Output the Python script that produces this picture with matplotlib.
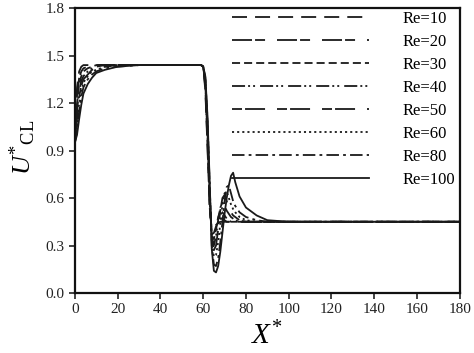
import matplotlib
matplotlib.use('Agg')
import matplotlib.pyplot as plt

# centreline velocity along the channel
x_star = [0, 1, 2, 3, 4, 6, 8, 10, 14, 20, 30, 59, 60, 61, 62, 63, 64, 65, 66,
          67, 68, 69, 70, 71, 72, 73, 74, 75, 77, 80, 85, 90, 100, 180]

re10 = [0.95, 1.30, 1.40, 1.43, 1.44, 1.44, 1.44, 1.44, 1.44, 1.44, 1.44,
        1.44, 1.43, 1.28, 0.92, 0.55, 0.40, 0.41, 0.43, 0.44, 0.45, 0.45,
        0.45, 0.45, 0.45, 0.45, 0.45, 0.45, 0.45, 0.45, 0.45, 0.45, 0.45, 0.45]
re20 = [0.95, 1.25, 1.36, 1.40, 1.42, 1.43, 1.44, 1.44, 1.44, 1.44, 1.44,
        1.44, 1.43, 1.30, 0.95, 0.55, 0.37, 0.38, 0.42, 0.45, 0.47, 0.47,
        0.46, 0.45, 0.45, 0.45, 0.45, 0.45, 0.45, 0.45, 0.45, 0.45, 0.45, 0.45]
re30 = [0.95, 1.20, 1.32, 1.37, 1.40, 1.42, 1.43, 1.44, 1.44, 1.44, 1.44,
        1.44, 1.43, 1.32, 1.00, 0.60, 0.36, 0.34, 0.40, 0.48, 0.52, 0.51,
        0.49, 0.47, 0.46, 0.45, 0.45, 0.45, 0.45, 0.45, 0.45, 0.45, 0.45, 0.45]
re40 = [0.95, 1.15, 1.28, 1.34, 1.37, 1.40, 1.42, 1.43, 1.44, 1.44, 1.44,
        1.44, 1.43, 1.33, 1.02, 0.62, 0.36, 0.30, 0.36, 0.46, 0.54, 0.57,
        0.55, 0.52, 0.50, 0.48, 0.47, 0.46, 0.45, 0.45, 0.45, 0.45, 0.45, 0.45]
re50 = [0.95, 1.10, 1.24, 1.31, 1.35, 1.38, 1.41, 1.42, 1.43, 1.44, 1.44,
        1.44, 1.43, 1.34, 1.05, 0.65, 0.35, 0.27, 0.30, 0.40, 0.52, 0.60,
        0.62, 0.58, 0.54, 0.51, 0.49, 0.48, 0.46, 0.45, 0.45, 0.45, 0.45, 0.45]
re60 = [0.95, 1.06, 1.20, 1.28, 1.33, 1.37, 1.40, 1.41, 1.43, 1.44, 1.44,
        1.44, 1.43, 1.35, 1.08, 0.68, 0.33, 0.23, 0.24, 0.32, 0.44, 0.56,
        0.63, 0.64, 0.60, 0.56, 0.53, 0.51, 0.48, 0.46, 0.45, 0.45, 0.45, 0.45]
re80 = [0.95, 1.02, 1.15, 1.24, 1.30, 1.35, 1.38, 1.40, 1.42, 1.43, 1.44,
        1.44, 1.43, 1.36, 1.10, 0.70, 0.30, 0.18, 0.17, 0.22, 0.32, 0.45,
        0.58, 0.67, 0.68, 0.63, 0.58, 0.55, 0.51, 0.48, 0.46, 0.45, 0.45, 0.45]
re100 = [0.95, 1.00, 1.10, 1.19, 1.26, 1.32, 1.36, 1.39, 1.41, 1.43, 1.44,
         1.44, 1.43, 1.37, 1.12, 0.72, 0.28, 0.14, 0.13, 0.17, 0.26, 0.38,
         0.50, 0.60, 0.68, 0.74, 0.76, 0.70, 0.61, 0.54, 0.49, 0.46, 0.45, 0.45]

labels = ['Re=10', 'Re=20', 'Re=30', 'Re=40', 'Re=50', 'Re=60', 'Re=80', 'Re=100']
series = [re10, re20, re30, re40, re50, re60, re80, re100]

# dash patterns in points
styles = [
    (0, (10.8, 5.8)),
    (0, (14.4, 2.2, 7.2, 8.6)),
    (0, (5.8, 2.9)),
    (0, (9.4, 2.2, 1.4, 2.2, 1.4, 3.6)),
    (0, (7.2, 2.2, 14.4, 8.6)),
    (0, (1.5, 2.2)),
    (0, (9, 3, 2, 3)),
    '-',
]

plt.rcParams['font.family'] = 'Liberation Serif'
plt.rcParams['mathtext.fontset'] = 'custom'
plt.rcParams['mathtext.rm'] = 'Liberation Serif'
plt.rcParams['mathtext.it'] = 'Liberation Serif:italic'
plt.rcParams['lines.scale_dashes'] = False

fig = plt.figure(figsize=(4.74, 3.53), dpi=100)
ax = fig.add_axes([0.158, 0.170, 0.812, 0.807])

for y, lab, ls in zip(series, labels, styles):
    ax.plot(x_star, y, linestyle=ls, color='#1a1a1a', lw=1.3, label=lab)

ax.set_xlim(0, 180)
ax.set_ylim(0, 1.8)
ax.set_xticks(range(0, 181, 20))
ax.set_yticks([0.0, 0.3, 0.6, 0.9, 1.2, 1.5, 1.8])
ax.set_yticklabels(['0.0', '0.3', '0.6', '0.9', '1.2', '1.5', '1.8'])
ax.tick_params(direction='out', length=4, width=1.2, labelsize=11, colors='#222222')
for s in ax.spines.values():
    s.set_linewidth(1.6)
    s.set_color('#111111')

ax.set_xlabel('$X^{*}$', fontsize=21, labelpad=4)
ax.set_ylabel(r'$U^{*}{}_{\mathrm{CL}}$', fontsize=19)
ax.yaxis.set_label_coords(-0.095, 0.51)

ax.legend(loc='upper right', bbox_to_anchor=(1.013, 1.025), frameon=False,
          fontsize=12, handlelength=8.2, handletextpad=2.0,
          labelspacing=0.42, borderaxespad=0.2)

fig.savefig('out.png', dpi=100)
